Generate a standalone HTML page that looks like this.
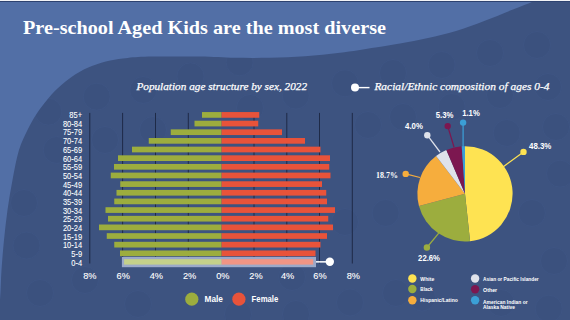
<!DOCTYPE html><html><head><meta charset="utf-8"><style>html,body{margin:0;padding:0;width:570px;height:320px;overflow:hidden;background:#3d5380}svg{display:block}</style></head><body>
<svg width="570" height="320" viewBox="0 0 570 320">
<rect x="0" y="0" width="570" height="320" fill="#3d5380"/>
<circle cx="96.7" cy="96.7" r="13.5" fill="#3b517e" stroke="#3f5684" stroke-width="0.8"/>
<circle cx="143.3" cy="90" r="13.5" fill="#3b517e" stroke="#3f5684" stroke-width="0.8"/>
<circle cx="48.3" cy="111.7" r="13.5" fill="#3b517e" stroke="#3f5684" stroke-width="0.8"/>
<circle cx="105" cy="140" r="13.5" fill="#3b517e" stroke="#3f5684" stroke-width="0.8"/>
<circle cx="153" cy="130" r="13.5" fill="#3b517e" stroke="#3f5684" stroke-width="0.8"/>
<circle cx="56.7" cy="150" r="13.5" fill="#3b517e" stroke="#3f5684" stroke-width="0.8"/>
<circle cx="190.5" cy="76.3" r="13.5" fill="#3b517e" stroke="#3f5684" stroke-width="0.8"/>
<circle cx="239.6" cy="62.3" r="13.5" fill="#3b517e" stroke="#3f5684" stroke-width="0.8"/>
<circle cx="250" cy="108" r="13.5" fill="#3b517e" stroke="#3f5684" stroke-width="0.8"/>
<circle cx="295.8" cy="95.6" r="13.5" fill="#3b517e" stroke="#3f5684" stroke-width="0.8"/>
<circle cx="345" cy="83.3" r="13.5" fill="#3b517e" stroke="#3f5684" stroke-width="0.8"/>
<circle cx="26.5" cy="245.5" r="13.5" fill="#3b517e" stroke="#3f5684" stroke-width="0.8"/>
<circle cx="40" cy="293" r="13.5" fill="#3b517e" stroke="#3f5684" stroke-width="0.8"/>
<circle cx="85" cy="280" r="13.5" fill="#3b517e" stroke="#3f5684" stroke-width="0.8"/>
<circle cx="138" cy="304" r="13.5" fill="#3b517e" stroke="#3f5684" stroke-width="0.8"/>
<circle cx="24" cy="203" r="13.5" fill="#3b517e" stroke="#3f5684" stroke-width="0.8"/>
<circle cx="292" cy="277" r="13.5" fill="#3b517e" stroke="#3f5684" stroke-width="0.8"/>
<circle cx="350" cy="302.5" r="13.5" fill="#3b517e" stroke="#3f5684" stroke-width="0.8"/>
<circle cx="296" cy="314" r="13.5" fill="#3b517e" stroke="#3f5684" stroke-width="0.8"/>
<circle cx="238" cy="314" r="13.5" fill="#3b517e" stroke="#3f5684" stroke-width="0.8"/>
<circle cx="396" cy="293" r="13.5" fill="#3b517e" stroke="#3f5684" stroke-width="0.8"/>
<circle cx="490" cy="53" r="13.5" fill="#3b517e" stroke="#3f5684" stroke-width="0.8"/>
<circle cx="537" cy="45" r="13.5" fill="#3b517e" stroke="#3f5684" stroke-width="0.8"/>
<circle cx="441.7" cy="65" r="13.5" fill="#3b517e" stroke="#3f5684" stroke-width="0.8"/>
<circle cx="393" cy="73" r="13.5" fill="#3b517e" stroke="#3f5684" stroke-width="0.8"/>
<circle cx="500" cy="95" r="13.5" fill="#3b517e" stroke="#3f5684" stroke-width="0.8"/>
<circle cx="548" cy="87" r="13.5" fill="#3b517e" stroke="#3f5684" stroke-width="0.8"/>
<circle cx="403" cy="117" r="13.5" fill="#3b517e" stroke="#3f5684" stroke-width="0.8"/>
<circle cx="451.7" cy="107" r="13.5" fill="#3b517e" stroke="#3f5684" stroke-width="0.8"/>
<circle cx="506.7" cy="133" r="13.5" fill="#3b517e" stroke="#3f5684" stroke-width="0.8"/>
<circle cx="556" cy="127" r="13.5" fill="#3b517e" stroke="#3f5684" stroke-width="0.8"/>
<circle cx="560" cy="173.7" r="13.5" fill="#3b517e" stroke="#3f5684" stroke-width="0.8"/>
<circle cx="531.9" cy="213" r="13.5" fill="#3b517e" stroke="#3f5684" stroke-width="0.8"/>
<circle cx="554" cy="261" r="13.5" fill="#3b517e" stroke="#3f5684" stroke-width="0.8"/>
<circle cx="548.7" cy="308.7" r="13.5" fill="#3b517e" stroke="#3f5684" stroke-width="0.8"/>
<circle cx="501" cy="303" r="13.5" fill="#3b517e" stroke="#3f5684" stroke-width="0.8"/>
<circle cx="385.6" cy="213" r="13.5" fill="#3b517e" stroke="#3f5684" stroke-width="0.8"/>
<circle cx="422" cy="297.5" r="13.5" fill="#3b517e" stroke="#3f5684" stroke-width="0.8"/>
<circle cx="345" cy="222" r="13.5" fill="#3b517e" stroke="#3f5684" stroke-width="0.8"/>
<circle cx="368" cy="125" r="13.5" fill="#3b517e" stroke="#3f5684" stroke-width="0.8"/>
<path d="M-3,330 C-2.5,325.0 -0.8,310.0 0.0,300.0 C0.8,290.0 0.8,280.0 1.5,270.0 C2.2,260.0 3.0,250.0 4.0,240.0 C5.0,230.0 6.1,220.0 7.5,210.0 C8.9,200.0 10.6,190.0 12.5,180.0 C14.4,170.0 16.5,158.3 19.0,150.0 C21.5,141.7 24.6,136.0 27.5,130.0 C30.4,124.0 33.2,119.0 36.5,114.0 C39.8,109.0 43.5,104.2 47.0,100.0 C50.5,95.8 52.8,92.8 57.5,88.6 C62.2,84.4 69.2,78.4 75.1,74.6 C80.9,70.8 86.8,68.1 92.6,65.8 C98.4,63.4 104.3,61.8 110.2,60.5 C116.1,59.2 120.7,58.5 127.7,57.9 C134.7,57.2 140.2,56.8 152.3,56.6 C164.4,56.4 186.2,56.3 200.0,56.5 C213.8,56.7 223.3,57.6 235.0,57.8 C246.7,58.0 258.3,58.0 270.0,57.8 C281.7,57.5 293.3,57.1 305.0,56.3 C316.7,55.5 328.3,54.3 340.0,52.8 C351.7,51.3 365.4,49.1 375.4,47.5 C385.4,45.9 391.2,45.0 400.0,43.4 C408.8,41.8 418.7,40.0 428.0,37.9 C437.3,35.8 446.6,33.7 456.0,30.9 C465.4,28.1 474.8,24.5 484.2,21.0 C493.6,17.5 503.9,13.2 512.3,9.8 C520.7,6.4 526.8,4.4 534.7,0.8 C542.7,-2.8 555.8,-9.9 560.0,-12.0 L-10,-10 Z" fill="#526fa6"/>
<rect x="0" y="0" width="570" height="1" fill="#f2f3f6"/>
<rect x="0" y="1" width="570" height="1" fill="#2d4270"/>
<text x="23" y="33.7" font-family="Liberation Serif" font-weight="bold" font-size="19" fill="#ffffff" textLength="363" lengthAdjust="spacingAndGlyphs">Pre-school Aged Kids are the most diverse</text>
<text x="136.4" y="90.4" font-family="Liberation Serif" font-style="italic" font-size="11.2" fill="#ffffff" stroke="#ffffff" stroke-width="0.25" textLength="170.7" lengthAdjust="spacingAndGlyphs">Population age structure by sex, 2022</text>
<circle cx="355" cy="87.6" r="4" fill="#ffffff"/><rect x="358" y="86.9" width="11.5" height="1.4" fill="#ffffff"/>
<text x="374.4" y="90.2" font-family="Liberation Serif" font-style="italic" font-size="11.4" fill="#ffffff" stroke="#ffffff" stroke-width="0.25" textLength="175.2" lengthAdjust="spacingAndGlyphs">Racial/Ethnic composition of ages 0-4</text>
<rect x="89.3" y="112.9" width="1" height="150.6" fill="#1e2a47"/>
<rect x="122.1" y="112.9" width="1" height="150.6" fill="#1e2a47"/>
<rect x="155.0" y="112.9" width="1" height="150.6" fill="#1e2a47"/>
<rect x="187.8" y="112.9" width="1" height="150.6" fill="#1e2a47"/>
<rect x="253.5" y="112.9" width="1" height="150.6" fill="#1e2a47"/>
<rect x="286.3" y="112.9" width="1" height="150.6" fill="#1e2a47"/>
<rect x="319.0" y="112.9" width="1" height="150.6" fill="#1e2a47"/>
<rect x="351.8" y="112.9" width="1" height="150.6" fill="#1e2a47"/>
<rect x="202" y="112.06" width="19.60" height="5.7" fill="#9cad3e"/>
<rect x="221.6" y="112.06" width="37.65" height="5.7" fill="#e8533a"/>
<rect x="194.5" y="120.71" width="27.10" height="5.7" fill="#9cad3e"/>
<rect x="221.6" y="120.71" width="36.65" height="5.7" fill="#e8533a"/>
<rect x="170.75" y="129.36" width="50.85" height="5.7" fill="#9cad3e"/>
<rect x="221.6" y="129.36" width="60.40" height="5.7" fill="#e8533a"/>
<rect x="148.75" y="138.01" width="72.85" height="5.7" fill="#9cad3e"/>
<rect x="221.6" y="138.01" width="83.40" height="5.7" fill="#e8533a"/>
<rect x="132" y="146.66" width="89.60" height="5.7" fill="#9cad3e"/>
<rect x="221.6" y="146.66" width="98.90" height="5.7" fill="#e8533a"/>
<rect x="118" y="155.31" width="103.60" height="5.7" fill="#9cad3e"/>
<rect x="221.6" y="155.31" width="108.40" height="5.7" fill="#e8533a"/>
<rect x="114" y="163.96" width="107.60" height="5.7" fill="#9cad3e"/>
<rect x="221.6" y="163.96" width="107.65" height="5.7" fill="#e8533a"/>
<rect x="110.75" y="172.61" width="110.85" height="5.7" fill="#9cad3e"/>
<rect x="221.6" y="172.61" width="108.90" height="5.7" fill="#e8533a"/>
<rect x="120.25" y="181.26" width="101.35" height="5.7" fill="#9cad3e"/>
<rect x="221.6" y="181.26" width="100.40" height="5.7" fill="#e8533a"/>
<rect x="116.5" y="189.91" width="105.10" height="5.7" fill="#9cad3e"/>
<rect x="221.6" y="189.91" width="104.65" height="5.7" fill="#e8533a"/>
<rect x="114.25" y="198.56" width="107.35" height="5.7" fill="#9cad3e"/>
<rect x="221.6" y="198.56" width="105.40" height="5.7" fill="#e8533a"/>
<rect x="105.5" y="207.21" width="116.10" height="5.7" fill="#9cad3e"/>
<rect x="221.6" y="207.21" width="113.40" height="5.7" fill="#e8533a"/>
<rect x="108" y="215.86" width="113.60" height="5.7" fill="#9cad3e"/>
<rect x="221.6" y="215.86" width="106.65" height="5.7" fill="#e8533a"/>
<rect x="99" y="224.51" width="122.60" height="5.7" fill="#9cad3e"/>
<rect x="221.6" y="224.51" width="111.40" height="5.7" fill="#e8533a"/>
<rect x="106.75" y="233.16" width="114.85" height="5.7" fill="#9cad3e"/>
<rect x="221.6" y="233.16" width="105.40" height="5.7" fill="#e8533a"/>
<rect x="114.25" y="241.81" width="107.35" height="5.7" fill="#9cad3e"/>
<rect x="221.6" y="241.81" width="98.90" height="5.7" fill="#e8533a"/>
<rect x="120" y="250.46" width="101.60" height="5.7" fill="#9cad3e"/>
<rect x="221.6" y="250.46" width="93.90" height="5.7" fill="#e8533a"/>
<rect x="121.9" y="256.9" width="194.1" height="10.3" fill="#9ba9c9"/>
<rect x="124.1" y="259.1" width="97.50" height="5.5" fill="#c4d08a"/>
<rect x="221.6" y="259.1" width="91.60" height="5.5" fill="#f09585"/>
<rect x="316" y="261.1" width="10" height="1.5" fill="#ffffff"/><circle cx="329.8" cy="261.8" r="4.2" fill="#ffffff"/>
<text x="69.37" y="118.10" font-family="Liberation Sans" font-size="8.2" fill="#ffffff" stroke="#ffffff" stroke-width="0.08" textLength="12.73" lengthAdjust="spacingAndGlyphs">85+</text>
<text x="62.91" y="126.79" font-family="Liberation Sans" font-size="8.2" fill="#ffffff" stroke="#ffffff" stroke-width="0.08" textLength="19.19" lengthAdjust="spacingAndGlyphs">80-84</text>
<text x="62.91" y="135.48" font-family="Liberation Sans" font-size="8.2" fill="#ffffff" stroke="#ffffff" stroke-width="0.08" textLength="19.19" lengthAdjust="spacingAndGlyphs">75-79</text>
<text x="62.91" y="144.17" font-family="Liberation Sans" font-size="8.2" fill="#ffffff" stroke="#ffffff" stroke-width="0.08" textLength="19.19" lengthAdjust="spacingAndGlyphs">70-74</text>
<text x="62.91" y="152.86" font-family="Liberation Sans" font-size="8.2" fill="#ffffff" stroke="#ffffff" stroke-width="0.08" textLength="19.19" lengthAdjust="spacingAndGlyphs">65-69</text>
<text x="62.91" y="161.55" font-family="Liberation Sans" font-size="8.2" fill="#ffffff" stroke="#ffffff" stroke-width="0.08" textLength="19.19" lengthAdjust="spacingAndGlyphs">60-64</text>
<text x="62.91" y="170.24" font-family="Liberation Sans" font-size="8.2" fill="#ffffff" stroke="#ffffff" stroke-width="0.08" textLength="19.19" lengthAdjust="spacingAndGlyphs">55-59</text>
<text x="62.91" y="178.93" font-family="Liberation Sans" font-size="8.2" fill="#ffffff" stroke="#ffffff" stroke-width="0.08" textLength="19.19" lengthAdjust="spacingAndGlyphs">50-54</text>
<text x="62.91" y="187.62" font-family="Liberation Sans" font-size="8.2" fill="#ffffff" stroke="#ffffff" stroke-width="0.08" textLength="19.19" lengthAdjust="spacingAndGlyphs">45-49</text>
<text x="62.91" y="196.31" font-family="Liberation Sans" font-size="8.2" fill="#ffffff" stroke="#ffffff" stroke-width="0.08" textLength="19.19" lengthAdjust="spacingAndGlyphs">40-44</text>
<text x="62.91" y="205.00" font-family="Liberation Sans" font-size="8.2" fill="#ffffff" stroke="#ffffff" stroke-width="0.08" textLength="19.19" lengthAdjust="spacingAndGlyphs">35-39</text>
<text x="62.91" y="213.69" font-family="Liberation Sans" font-size="8.2" fill="#ffffff" stroke="#ffffff" stroke-width="0.08" textLength="19.19" lengthAdjust="spacingAndGlyphs">30-34</text>
<text x="62.91" y="222.38" font-family="Liberation Sans" font-size="8.2" fill="#ffffff" stroke="#ffffff" stroke-width="0.08" textLength="19.19" lengthAdjust="spacingAndGlyphs">25-29</text>
<text x="62.91" y="231.07" font-family="Liberation Sans" font-size="8.2" fill="#ffffff" stroke="#ffffff" stroke-width="0.08" textLength="19.19" lengthAdjust="spacingAndGlyphs">20-24</text>
<text x="62.91" y="239.76" font-family="Liberation Sans" font-size="8.2" fill="#ffffff" stroke="#ffffff" stroke-width="0.08" textLength="19.19" lengthAdjust="spacingAndGlyphs">15-19</text>
<text x="62.91" y="248.45" font-family="Liberation Sans" font-size="8.2" fill="#ffffff" stroke="#ffffff" stroke-width="0.08" textLength="19.19" lengthAdjust="spacingAndGlyphs">10-14</text>
<text x="71.26" y="257.14" font-family="Liberation Sans" font-size="8.2" fill="#ffffff" stroke="#ffffff" stroke-width="0.08" textLength="10.84" lengthAdjust="spacingAndGlyphs">5-9</text>
<text x="71.26" y="265.83" font-family="Liberation Sans" font-size="8.2" fill="#ffffff" stroke="#ffffff" stroke-width="0.08" textLength="10.84" lengthAdjust="spacingAndGlyphs">0-4</text>
<text x="89.8" y="279.2" text-anchor="middle" font-family="Liberation Sans" font-size="9.2" fill="#ffffff" stroke="#ffffff" stroke-width="0.1">8%</text>
<text x="123.2" y="279.2" text-anchor="middle" font-family="Liberation Sans" font-size="9.2" fill="#ffffff" stroke="#ffffff" stroke-width="0.1">6%</text>
<text x="156.4" y="279.2" text-anchor="middle" font-family="Liberation Sans" font-size="9.2" fill="#ffffff" stroke="#ffffff" stroke-width="0.1">4%</text>
<text x="189.6" y="279.2" text-anchor="middle" font-family="Liberation Sans" font-size="9.2" fill="#ffffff" stroke="#ffffff" stroke-width="0.1">2%</text>
<text x="222.9" y="279.2" text-anchor="middle" font-family="Liberation Sans" font-size="9.2" fill="#ffffff" stroke="#ffffff" stroke-width="0.1">0%</text>
<text x="256" y="279.2" text-anchor="middle" font-family="Liberation Sans" font-size="9.2" fill="#ffffff" stroke="#ffffff" stroke-width="0.1">2%</text>
<text x="287.6" y="279.2" text-anchor="middle" font-family="Liberation Sans" font-size="9.2" fill="#ffffff" stroke="#ffffff" stroke-width="0.1">4%</text>
<text x="320" y="279.2" text-anchor="middle" font-family="Liberation Sans" font-size="9.2" fill="#ffffff" stroke="#ffffff" stroke-width="0.1">6%</text>
<text x="353.3" y="279.2" text-anchor="middle" font-family="Liberation Sans" font-size="9.2" fill="#ffffff" stroke="#ffffff" stroke-width="0.1">8%</text>
<circle cx="191.8" cy="299.2" r="6.6" fill="#9cad3e"/><circle cx="238.9" cy="299.2" r="6.6" fill="#e8533a"/>
<text x="204.5" y="302.2" font-family="Liberation Sans" font-weight="bold" font-size="9.2" fill="#ffffff" textLength="18.4" lengthAdjust="spacingAndGlyphs">Male</text>
<text x="251.6" y="302.2" font-family="Liberation Sans" font-weight="bold" font-size="9.2" fill="#ffffff" textLength="26.7" lengthAdjust="spacingAndGlyphs">Female</text>
<path d="M465.0,193.8 L465.00,146.20 A47.6,47.6 0 0 1 470.07,241.13 Z" fill="#fee352"/>
<path d="M465.0,193.8 L470.07,241.13 A47.6,47.6 0 0 1 418.97,205.93 Z" fill="#9cad3e"/>
<path d="M465.0,193.8 L418.97,205.93 A47.6,47.6 0 0 1 436.06,156.01 Z" fill="#f6ad3d"/>
<path d="M465.0,193.8 L436.06,156.01 A47.6,47.6 0 0 1 446.37,150.00 Z" fill="#dfe2ea"/>
<path d="M465.0,193.8 L446.37,150.00 A47.6,47.6 0 0 1 461.71,146.31 Z" fill="#7c1750"/>
<path d="M465.0,193.8 L461.71,146.31 A47.6,47.6 0 0 1 465.00,146.20 Z" fill="#3b9fd6"/>
<line x1="523.5" y1="151.9" x2="503.3" y2="166.7" stroke="#fee352" stroke-width="1.25"/><circle cx="523.5" cy="151.9" r="3.2" fill="#fee352"/>
<line x1="426.9" y1="247.5" x2="438.75" y2="233.1" stroke="#9cad3e" stroke-width="1.25"/><circle cx="426.9" cy="247.5" r="3.2" fill="#9cad3e"/>
<line x1="405.7" y1="173.9" x2="420" y2="177.5" stroke="#f6ad3d" stroke-width="1.25"/><circle cx="405.7" cy="173.9" r="3.2" fill="#f6ad3d"/>
<line x1="427.3" y1="135.2" x2="440" y2="152" stroke="#dfe2ea" stroke-width="1.25"/><circle cx="427.3" cy="135.2" r="3.2" fill="#dfe2ea"/>
<line x1="447.7" y1="126.1" x2="454" y2="147" stroke="#7c1750" stroke-width="1.25"/><circle cx="447.7" cy="126.1" r="3.2" fill="#7c1750"/>
<line x1="463.1" y1="122.6" x2="463.1" y2="150" stroke="#3b9fd6" stroke-width="1.25"/><circle cx="463.1" cy="122.6" r="3.2" fill="#3b9fd6"/>
<text x="529" y="149" font-family="Liberation Sans" font-weight="bold" font-size="8.2" fill="#ffffff" textLength="22.4" lengthAdjust="spacingAndGlyphs">48.3%</text>
<text x="418.1" y="260.6" font-family="Liberation Sans" font-weight="bold" font-size="8.2" fill="#ffffff" textLength="21.9" lengthAdjust="spacingAndGlyphs">22.6%</text>
<text x="376" y="177.7" font-family="Liberation Serif" font-weight="bold" font-size="8.9" fill="#ffffff" textLength="21.9" lengthAdjust="spacingAndGlyphs">18.7%</text>
<text x="405.1" y="129" font-family="Liberation Sans" font-weight="bold" font-size="8.2" fill="#ffffff" textLength="17.8" lengthAdjust="spacingAndGlyphs">4.0%</text>
<text x="435.75" y="117.7" font-family="Liberation Sans" font-weight="bold" font-size="8.2" fill="#ffffff" textLength="17.75" lengthAdjust="spacingAndGlyphs">5.3%</text>
<text x="462.2" y="116" font-family="Liberation Sans" font-weight="bold" font-size="8.2" fill="#ffffff" textLength="17.6" lengthAdjust="spacingAndGlyphs">1.1%</text>
<circle cx="412.35" cy="278.5" r="4.2" fill="#fee352"/>
<text x="420.35" y="280.60" font-family="Liberation Sans" font-weight="bold" font-size="6" fill="#ffffff" textLength="14.0" lengthAdjust="spacingAndGlyphs">White</text>
<circle cx="412.35" cy="289.05" r="4.2" fill="#9cad3e"/>
<text x="420.35" y="291.15" font-family="Liberation Sans" font-weight="bold" font-size="6" fill="#ffffff" textLength="12.2" lengthAdjust="spacingAndGlyphs">Black</text>
<circle cx="412.35" cy="300.3" r="4.2" fill="#f6ad3d"/>
<text x="420.35" y="302.40" font-family="Liberation Sans" font-weight="bold" font-size="6" fill="#ffffff" textLength="37.5" lengthAdjust="spacingAndGlyphs">Hispanic/Latino</text>
<circle cx="475.1" cy="278.5" r="4.2" fill="#dfe2ea"/>
<text x="483" y="280.60" font-family="Liberation Sans" font-weight="bold" font-size="6" fill="#ffffff" textLength="55.7" lengthAdjust="spacingAndGlyphs">Asian or Pacific Islander</text>
<circle cx="475.1" cy="289.2" r="4.2" fill="#7c1750"/>
<text x="483" y="291.60" font-family="Liberation Sans" font-weight="bold" font-size="6" fill="#ffffff" textLength="14.2" lengthAdjust="spacingAndGlyphs">Other</text>
<circle cx="475.1" cy="300.2" r="4.2" fill="#3b9fd6"/>
<text x="483" y="303.60" font-family="Liberation Sans" font-weight="bold" font-size="6" fill="#ffffff" textLength="44.6" lengthAdjust="spacingAndGlyphs">American Indian or</text>
<text x="483" y="309.4" font-family="Liberation Sans" font-weight="bold" font-size="6" fill="#ffffff" textLength="32" lengthAdjust="spacingAndGlyphs">Alaska Native</text>
</svg></body></html>
